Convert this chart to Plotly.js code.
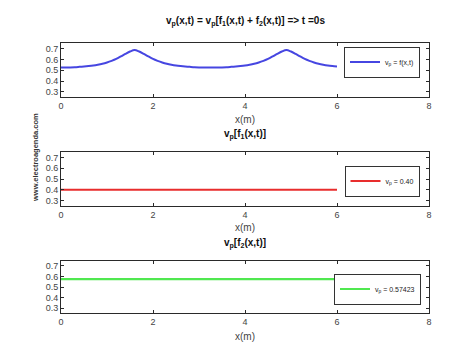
<!DOCTYPE html>
<html>
<head>
<meta charset="utf-8">
<script src="https://cdn.plot.ly/plotly-3.0.1.min.js"></script>
<style>
html,body{margin:0;padding:0;background:#fff;}
#chart{width:474px;height:353px;}
</style>
</head>
<body>
<div id="chart"></div>
<script>
// ---- data ----
var xPos = [0.0,0.1,0.2,0.3,0.4,0.5,0.6,0.7,0.8,0.9,1.0,1.1,1.2,1.3,1.4,1.5,1.6,1.7,1.8,1.9,2.0,
            2.1,2.2,2.3,2.4,2.5,2.6,2.7,2.8,2.9,3.0,3.1,3.2,3.3,3.4,3.5,3.6,3.7,3.8,3.9,4.0,
            4.1,4.2,4.3,4.4,4.5,4.6,4.7,4.8,4.9,5.0,5.1,5.2,5.3,5.4,5.5,5.6,5.7,5.8,5.9,6.0];
var vpSum = [0.525,0.526,0.527,0.529,0.532,0.535,0.539,0.544,0.551,0.560,0.572,0.587,0.605,0.628,0.652,0.674,0.688,0.674,0.652,0.628,0.605,
             0.587,0.572,0.560,0.551,0.544,0.539,0.535,0.532,0.529,0.527,0.526,0.525,0.525,0.526,0.527,0.529,0.532,0.535,0.539,0.544,
             0.551,0.560,0.572,0.587,0.605,0.628,0.652,0.674,0.688,0.674,0.652,0.628,0.605,0.587,0.572,0.560,0.551,0.544,0.539,0.535];
var xEnds = [0, 6];
var vpF1 = [0.40, 0.40];
var vpF2 = [0.57423, 0.57423];
var xTicks = [0, 2, 4, 6, 8];
var yTicks = [0.3, 0.4, 0.5, 0.6, 0.7];
var yTickText = ['0.3', '0.4', '0.5', '0.6', '0.7'];
var legendNames = ['v<sub>p</sub> = f(x,t)', 'v<sub>p</sub> = 0.40', 'v<sub>p</sub> = 0.57423'];
var titles = ['v<sub>p</sub>(x,t) = v<sub>p</sub>[f<sub>1</sub>(x,t) + f<sub>2</sub>(x,t)] => t =0s',
              'v<sub>p</sub>[f<sub>1</sub>(x,t)]',
              'v<sub>p</sub>[f<sub>2</sub>(x,t)]'];

var W = 474, H = 353;
function px(x){return x/W;}
function py(y){return 1 - y/H;}

var traces = [
  {x: xPos, y: vpSum, type:'scatter', mode:'lines', name: legendNames[0],
   line:{color:'rgb(70,70,225)', width:2, shape:'spline', smoothing:0.8}, xaxis:'x', yaxis:'y', legend:'legend'},
  {x: xEnds, y: vpF1, type:'scatter', mode:'lines', name: legendNames[1],
   line:{color:'rgb(232,45,45)', width:2}, xaxis:'x2', yaxis:'y2', legend:'legend2'},
  {x: xEnds, y: vpF2, type:'scatter', mode:'lines', name: legendNames[2],
   line:{color:'rgb(80,232,80)', width:2.2}, xaxis:'x3', yaxis:'y3', legend:'legend3'}
];

var fontFam = 'Liberation Sans, Arial, sans-serif';
function xax(anchor){
  return {domain:[px(61), px(429)], range:[0,8], tickvals:xTicks, ticktext:xTicks.map(String),
    showgrid:false, zeroline:false, showline:true, mirror:'ticks', linecolor:'#2a2a2a', linewidth:1,
    ticks:'inside', ticklen:3, tickcolor:'#2a2a2a', anchor:anchor,
    tickfont:{family:fontFam, size:9, color:'#444'}, fixedrange:true};
}
function yax(top, bottom, anchor){
  return {domain:[py(bottom), py(top)], range:[0.25,0.75], tickvals:yTicks, ticktext:yTickText,
    showgrid:false, zeroline:false, showline:true, mirror:'ticks', linecolor:'#2a2a2a', linewidth:1,
    ticks:'inside', ticklen:3, tickcolor:'#2a2a2a', anchor:anchor,
    tickfont:{family:fontFam, size:9, color:'#444'}, fixedrange:true};
}
function leg(right, mid){
  return {x:px(right), y:py(mid), xanchor:'right', yanchor:'middle', xref:'paper', yref:'paper',
    bgcolor:'#fff', bordercolor:'#333', borderwidth:1,
    font:{family:fontFam, size:7, color:'#222'}, itemwidth:30, tracegroupgap:0};
}

var titleFont = {family:fontFam, size:10, color:'#111'};
var labFont = {family:fontFam, size:10, color:'#444'};
var annotations = [
  {text:'<b>'+titles[0]+'</b>', x:px(245), y:py(21), xref:'paper', yref:'paper', showarrow:false, font:titleFont, xanchor:'center', yanchor:'middle'},
  {text:'<b>'+titles[1]+'</b>', x:px(245), y:py(134), xref:'paper', yref:'paper', showarrow:false, font:titleFont, xanchor:'center', yanchor:'middle'},
  {text:'<b>'+titles[2]+'</b>', x:px(245), y:py(243), xref:'paper', yref:'paper', showarrow:false, font:titleFont, xanchor:'center', yanchor:'middle'},
  {text:'x(m)', x:px(245), y:py(119), xref:'paper', yref:'paper', showarrow:false, font:labFont, xanchor:'center', yanchor:'middle'},
  {text:'x(m)', x:px(245), y:py(227), xref:'paper', yref:'paper', showarrow:false, font:labFont, xanchor:'center', yanchor:'middle'},
  {text:'x(m)', x:px(245), y:py(336), xref:'paper', yref:'paper', showarrow:false, font:labFont, xanchor:'center', yanchor:'middle'},
  {text:'<b>www.electroagenda.com</b>', x:px(35), y:py(158), xref:'paper', yref:'paper', showarrow:false, textangle:-90,
   font:{family:fontFam, size:7.5, color:'#333'}, xanchor:'center', yanchor:'middle'}
];

var layout = {
  width:W, height:H, margin:{l:0,r:0,t:0,b:0}, paper_bgcolor:'#fff', plot_bgcolor:'#fff',
  showlegend:true,
  xaxis: xax('y'), yaxis: yax(43.3, 97.3, 'x'),
  xaxis2: xax('y2'), yaxis2: yax(152.3, 205.7, 'x2'),
  xaxis3: xax('y3'), yaxis3: yax(260.7, 313.3, 'x3'),
  legend: leg(420, 62), legend2: leg(419.5, 181), legend3: leg(421, 289),
  annotations: annotations,
  font:{family:fontFam}
};

Plotly.newPlot('chart', traces, layout, {staticPlot:true, displayModeBar:false});
</script>
</body>
</html>
